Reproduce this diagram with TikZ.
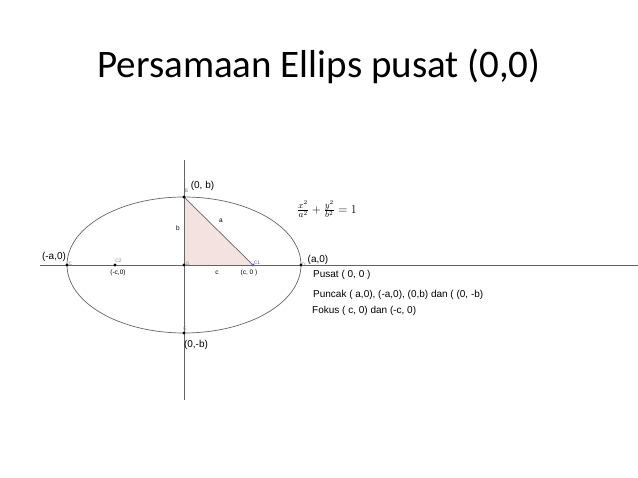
\documentclass[tikz,border=0pt]{standalone}
\usepackage{fontspec}
\setmainfont{Liberation Sans}
\newfontfamily\titlefont{Carlito}
\usetikzlibrary{calc, positioning}
\usepackage{xcolor}
\definecolor{axisgray}{RGB}{100,100,100}
\definecolor{trifill}{RGB}{244,226,224}
\definecolor{ptblue}{RGB}{90,90,200}
\begin{document}
\begin{tikzpicture}[x=1pt, y=-1pt]
			\tikzstyle{lbl} = [inner sep=0pt, font=\fontsize{10}{11}\selectfont]
			\tikzstyle{tiny} = [inner sep=0pt, font=\fontsize{5}{6}\selectfont, text=gray]
			\tikzstyle{small} = [inner sep=0pt, font=\fontsize{6.5}{7}\selectfont]
			\tikzstyle{pt} = [circle, fill=black, inner sep=0pt, minimum size=3.2pt]
			\tikzstyle{info} = [inner sep=0pt, anchor=west, font=\fontsize{10}{11}\selectfont]
			\tikzstyle{line} = [axisgray, line width=0.7pt]
			
			\useasboundingbox (0,0) rectangle (638,478);
			
			\node[font=\titlefont\fontsize{39}{42}\selectfont] at (319, 66) (title) {Persamaan Ellips pusat (0,0)};
			
			% triangle and axes
			\fill[trifill] (184,197) -- (184,265) -- (253,265) -- cycle;
			\draw[line] (40,265) -- (638,265);
			\draw[line] (184,160) -- (184,400);
			\draw[line] (184,265) ellipse [x radius=117, y radius=-68];
			\draw[line] (184,197) -- (253,265);
			
			\node[pt] at (184,197) (B) {};
			\node[pt] at (184,265) (G) {};
			\node[pt] at (67,265) (C) {};
			\node[pt] at (301,265) (D) {};
			\node[pt] at (184,333) (E) {};
			\node[pt] at (115,265) (C2) {};
			\node[pt, fill=ptblue] at (253,265) (C1) {};
			
			\node[tiny] at (186.5,191) {B};
			\node[tiny] at (70.5,264) {C};
			\node[tiny] at (118.5,261) {C2};
			\node[tiny] at (187.5,264) {G};
			\node[tiny, text=ptblue] at (257,263) {C1};
			\node[tiny] at (303.5,265) {D};
			\node[tiny] at (185,329) {E};
			
			\node[lbl] at (202.5,186) (lB) {(0, b)};
			\node[lbl] at (54,257) (lC) {(-a,0)};
			\node[lbl] at (318,260) (lD) {(a,0)};
			\node[lbl] at (196,345) (lE) {(0,-b)};
			\node[small] at (118,273) (lC2) {(-c,0)};
			\node[small] at (249,273) (lC1) {(c, 0 )};
			\node[small] at (178,228) (sb) {b};
			\node[small] at (221,221) (sa) {a};
			\node[small] at (217,273) (sc) {c};
			
			\node[inner sep=0pt, font=\fontsize{12.5}{14}\selectfont] at (327,209) (eq) {$\frac{x^2}{a^2}+\frac{y^2}{b^2}=1$};
			
			\node[info] at (313,275) (pusat) {Pusat ( 0, 0 )};
			\node[info] at (313,295) (puncak) {Puncak ( a,0), (-a,0), (0,b) dan ( (0, -b)};
			\node[info] at (312,311) (fokus) {Fokus ( c, 0) dan (-c, 0)};
		\end{tikzpicture}
\end{document}
